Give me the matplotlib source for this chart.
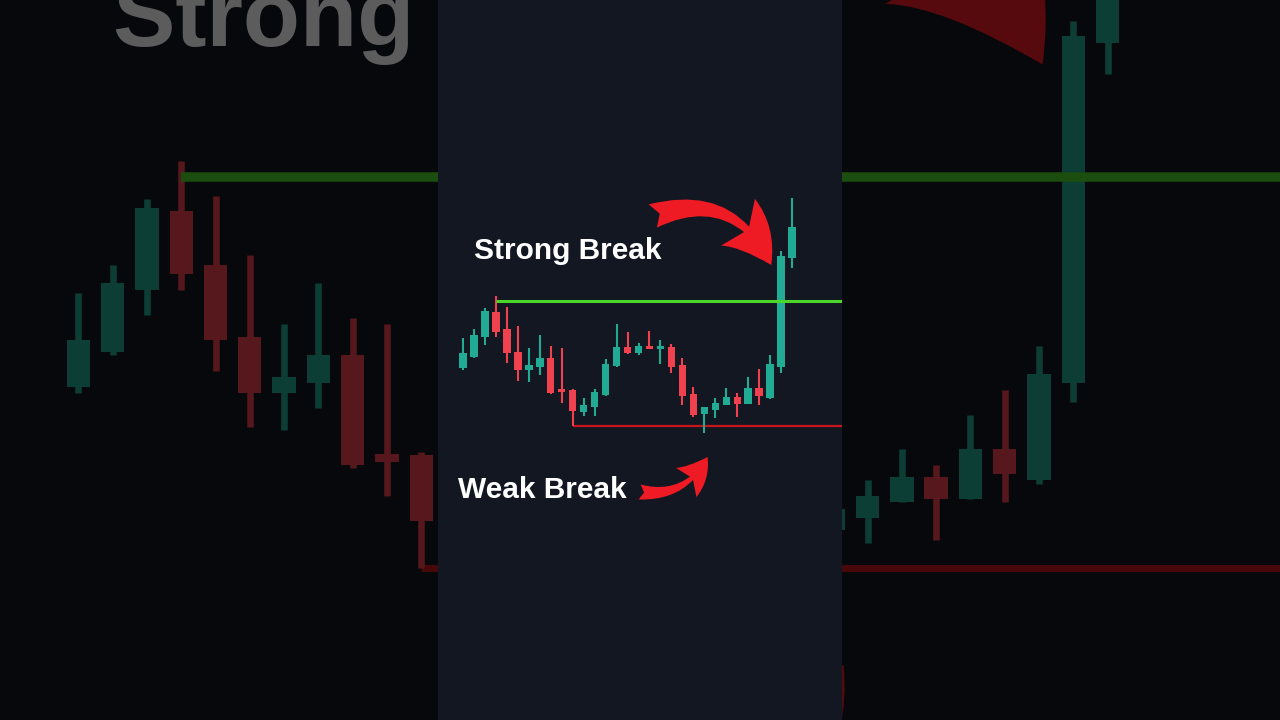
import matplotlib.pyplot as plt
from matplotlib.colors import to_rgb
from matplotlib.patches import FancyArrowPatch


# OHLC (price scale: support = 100, resistance = 112.5)
opens  = [105.8, 106.9, 108.9, 111.4, 109.7, 107.4, 105.6, 105.9, 106.8, 103.6,
          103.6, 101.4, 101.9, 103.1, 106.0, 107.9, 107.3, 108.0, 107.7, 107.9,
          106.1, 103.2, 101.2, 101.6, 102.1, 102.9, 102.2, 103.8, 102.8, 105.9, 116.8]
highs  = [108.8, 109.7, 111.8, 113.0, 111.9, 110.0, 107.8, 109.1, 108.0, 107.8,
          103.7, 102.8, 103.7, 106.7, 110.2, 109.4, 108.3, 109.5, 108.6, 108.2,
          106.8, 103.9, 101.9, 102.8, 103.8, 103.3, 104.9, 105.7, 107.1, 117.5, 122.8]
lows   = [105.6, 106.8, 108.1, 108.9, 106.3, 104.5, 104.4, 105.1, 103.2, 102.3,
          100.0, 101.0, 101.0, 103.0, 105.9, 107.2, 107.1, 107.7, 106.2, 105.3,
          102.1, 100.9, 99.3, 100.8, 102.1, 100.9, 102.2, 102.1, 102.7, 105.3, 115.8]
closes = [107.3, 109.1, 111.5, 109.4, 107.3, 105.6, 106.1, 106.8, 103.3, 103.4,
          101.5, 102.1, 103.4, 106.2, 107.9, 107.3, 108.0, 107.7, 107.9, 105.9,
          103.0, 101.1, 101.9, 102.3, 102.9, 102.2, 103.8, 103.0, 106.2, 117.0, 119.9]

resistance = 112.5
resistance_start = 3   # candle index where the green level starts
support = 100.0
support_start = 10

strong_label = 'Strong Break'
weak_label = 'Weak Break'

BG = '#131722'
UP = '#22ab94'
DOWN = '#f0424e'
RES_COLOR = '#4bd62a'
SUP_COLOR = '#c8161d'
ARROW = '#ef1b24'


def shade(color, f):
    r, g, b = to_rgb(color)
    return (r * f, g * f, b * f)


def draw_scene(ax, k=1.0, f=1.0):
    # k: zoom factor for sizes, f: brightness
    ax.set_facecolor(shade(BG, f))
    for i in range(len(opens)):
        o, c, h, l = opens[i], closes[i], highs[i], lows[i]
        col = shade(UP if c >= o else DOWN, f)
        ax.vlines(i, l, h, color=col, lw=1.5 * k, zorder=2)
        ax.bar(i, max(abs(c - o), 0.25), bottom=min(o, c), width=0.68,
               color=col, zorder=3)
    ax.hlines(resistance, resistance_start, 60, color=shade(RES_COLOR, f),
              lw=2.2 * k, zorder=4)
    ax.hlines(support, support_start, 60, color=shade(SUP_COLOR, f),
              lw=1.6 * k, zorder=1)

    ax.text(1.0, 116.7, strong_label, color=shade('white', f),
            fontsize=21.5 * k, fontweight='bold', family='Liberation Sans',
            ha='left', va='baseline', zorder=5)
    ax.text(-0.46, 92.8, weak_label, color=shade('white', f),
            fontsize=21.5 * k, fontweight='bold', family='Liberation Sans',
            ha='left', va='baseline', zorder=5)

    # curved callout arrows
    style = 'fancy,head_length=0.75,head_width=0.8,tail_width=0.34'
    top = FancyArrowPatch((17.3, 121.0), (28.1, 116.1),
                          connectionstyle='arc3,rad=-0.45', arrowstyle=style,
                          mutation_scale=52 * k, color=shade(ARROW, f),
                          shrinkA=0, shrinkB=0, lw=0, zorder=6)
    ax.add_patch(top)
    bot = FancyArrowPatch((16.1, 93.4), (22.3, 96.9),
                          connectionstyle='arc3,rad=0.35', arrowstyle=style,
                          mutation_scale=32 * k, color=shade(ARROW, f),
                          shrinkA=0, shrinkB=0, lw=0, zorder=6)
    ax.add_patch(bot)

    for s in ax.spines.values():
        s.set_visible(False)
    ax.set_xticks([])
    ax.set_yticks([])


fig = plt.figure(figsize=(12.8, 7.2), dpi=100)
fig.patch.set_facecolor('#06070a')

# zoomed, darkened copy behind the video frame
bg = fig.add_axes([0, 0, 1, 1], zorder=0)
draw_scene(bg, k=3.13, f=0.36)
bg.set_xlim(-2.28, 35.02)
bg.set_ylim(95.14, 118.16)

# main chart panel
ax = fig.add_axes([438 / 1280, 0, 404 / 1280, 1], zorder=1)
draw_scene(ax)
ax.set_xlim(-2.28, 34.55)
ax.set_ylim(70.6, 142.6)

fig.savefig('out.png', dpi=100, facecolor=fig.get_facecolor())
